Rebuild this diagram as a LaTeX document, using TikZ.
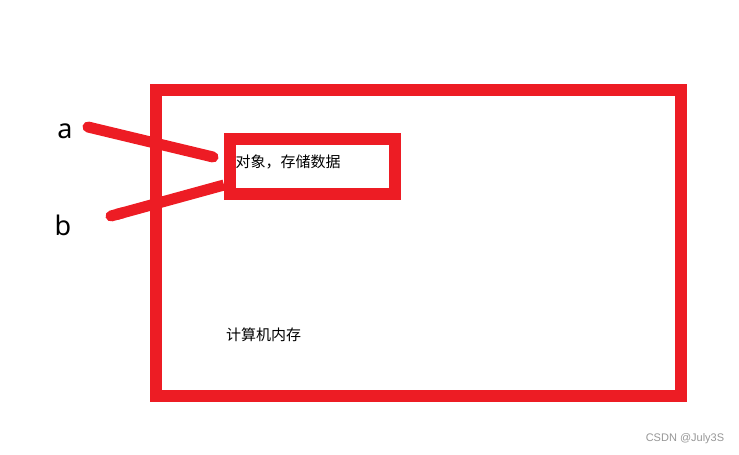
\documentclass[tikz,border=0pt]{standalone}
\usepackage{fontspec}
\usepackage{tikz}
\usetikzlibrary{positioning,calc}
\newfontfamily\cjk{Noto Sans CJK SC}
\newfontfamily\latinfont{Noto Sans}
\newfontfamily\markfont{Liberation Sans}
\definecolor{paintred}{RGB}{237,28,36}
\definecolor{markgray}{RGB}{150,150,150}

\tikzset{
    redbox/.style={draw=paintred, line width=12pt, rectangle, inner sep=0pt},
    pointer/.style={draw=paintred, line width=11pt, line cap=round},
    cjktext/.style={inner sep=0pt, font=\cjk\fontsize{15pt}{18pt}\selectfont},
    varname/.style={inner sep=0pt, font=\latinfont\fontsize{27pt}{30pt}\selectfont}
}

\begin{document}
\begin{tikzpicture}[x=1pt, y=-1pt]
\useasboundingbox (0, 0) rectangle (739, 455);
\path (418, 242.75) node[redbox, minimum width=525pt, minimum height=306.5pt] (memory) {};
\path (312, 166) node[redbox, minimum width=165pt, minimum height=55pt] (objbox) {};
\path (288, 162) node[cjktext] (objtext) {对象，存储数据};
\path (263.5, 335) node[cjktext] (memtext) {计算机内存};

\path (65, 131) node[varname] (a) {a};
\path (63, 225) node[varname] (b) {b};

% free ends of the two references
\coordinate (a-start) at (88, 127);
\coordinate (a-end) at (213, 157);
\coordinate (b-start) at (111, 216);
\coordinate (b-end) at (224, 185);

\draw[pointer] (a-start) -- (a-end);
\draw[pointer, line cap=butt] (b-end) -- ($(b-end)!0.95!(b-start)$);
\draw[pointer] ($(b-end)!0.9!(b-start)$) -- (b-start);

\path (685, 439) node[font=\markfont\fontsize{11pt}{13pt}\selectfont, text=markgray] (mark) {CSDN @July3S};
\end{tikzpicture}
\end{document}
